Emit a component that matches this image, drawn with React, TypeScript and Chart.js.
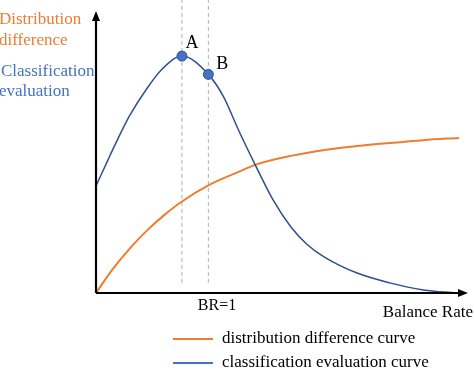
import React, { useEffect, useRef } from "react";
import { Chart, registerables } from "chart.js";

Chart.register(...registerables);

// Balance rate axis (0..100 arbitrary units), value axis (0..100)
const orangeX = [0, 4.5, 9.0, 13.6, 18.4, 22.9, 30.3, 38.3, 42.8, 52.4, 61.4, 70.2, 79.0, 88.0, 97.6];
const orangeY = [0, 8.5, 15.7, 22.1, 27.8, 32.4, 38.4, 43.1, 45.6, 48.8, 50.9, 52.3, 53.4, 54.4, 55.2];

const blueX = [0, 3.2, 5.1, 9.0, 13.6, 17.8, 23.1, 30.2, 34.3, 38.3, 42.8, 47.6, 52.4, 56.9, 61.4, 70.2, 79.0, 88.0, 96.8];
const blueY = [38.1, 47.3, 52.7, 63.0, 72.6, 79.7, 84.3, 77.8, 69.8, 58.0, 45.6, 33.1, 23.5, 17.1, 12.8, 7.1, 3.6, 1.1, 0];

const markLabels = ["A", "B"];
const markX = [23.1, 30.2];
const markY = [84.3, 77.8];
const guideBottom = 3.6;
const guideTop = 104.5;

const yAxisTitle1 = ["Distribution", "difference"];
const yAxisTitle2 = ["Classification", "evaluation"];
const xAxisTitle = "Balance Rate";
const brLabel = "BR=1";
const legendLabels = ["distribution difference curve", "classification evaluation curve"];

const ORANGE = "#ed7d31";
const BLUE_LINE = "#2f4f8f";
const BLUE_TEXT = "#4472c4";
const FAMILY = '"Liberation Serif", serif';

const decorPlugin = {
  id: "decor",
  afterDatasetsDraw(chart: any) {
    const { ctx, chartArea, scales } = chart;
    const { left, right, top, bottom } = chartArea;
    ctx.save();
    ctx.font = `16px ${FAMILY}`;
    ctx.measureText("warm up");
    // axes
    ctx.strokeStyle = "#000";
    ctx.fillStyle = "#000";
    ctx.lineWidth = 2.2;
    ctx.beginPath();
    ctx.moveTo(left, bottom);
    ctx.lineTo(left, top + 6);
    ctx.moveTo(left, bottom);
    ctx.lineTo(right - 6, bottom);
    ctx.stroke();
    // arrow heads
    ctx.beginPath();
    ctx.moveTo(left, top - 1);
    ctx.lineTo(left - 4, top + 9);
    ctx.lineTo(left + 4, top + 9);
    ctx.closePath();
    ctx.fill();
    ctx.beginPath();
    ctx.moveTo(right, bottom);
    ctx.lineTo(right - 10, bottom - 4);
    ctx.lineTo(right - 10, bottom + 4);
    ctx.closePath();
    ctx.fill();

    ctx.textBaseline = "middle";

    // point labels
    ctx.fillStyle = "#000";
    ctx.font = `18px ${FAMILY}`;
    ctx.textAlign = "center";
    const xs = scales.x;
    const ys = scales.y;
    ctx.fillText(markLabels[0], xs.getPixelForValue(markX[0]) + 10, ys.getPixelForValue(markY[0]) - 13);
    ctx.fillText(markLabels[1], xs.getPixelForValue(markX[1]) + 14, ys.getPixelForValue(markY[1]) - 10);

    // BR=1 label
    ctx.font = `16px ${FAMILY}`;
    ctx.fillText(brLabel, 217, 306);
    // x axis title
    ctx.font = `17px ${FAMILY}`;
    ctx.textAlign = "right";
    ctx.fillText(xAxisTitle, 473, 313);

    // legend
    ctx.font = `17px ${FAMILY}`;
    ctx.textAlign = "left";
    const rows = [
      { y: 339, color: ORANGE, text: legendLabels[0] },
      { y: 363, color: BLUE_TEXT, text: legendLabels[1] },
    ];
    rows.forEach((r) => {
      ctx.strokeStyle = r.color;
      ctx.lineWidth = 2;
      ctx.beginPath();
      ctx.moveTo(173, r.y);
      ctx.lineTo(213, r.y);
      ctx.stroke();
      ctx.fillStyle = "#000";
      ctx.fillText(r.text, 222, r.y);
    });

    // side titles
    ctx.font = `17px ${FAMILY}`;
    ctx.textAlign = "left";
    ctx.fillStyle = ORANGE;
    ctx.fillText(yAxisTitle1[0], -1, 20);
    ctx.fillText(yAxisTitle1[1], -1, 41);
    ctx.fillStyle = BLUE_TEXT;
    ctx.fillText(yAxisTitle2[0], 1, 72);
    ctx.fillText(yAxisTitle2[1], -1, 92);
    ctx.restore();
  },
};

export default function App() {
  const ref = useRef<HTMLCanvasElement>(null);
  useEffect(() => {
    if (!ref.current) return;
    const guideSets = markX.map((x) => ({
      type: "line" as const,
      data: [
        { x, y: guideBottom },
        { x, y: guideTop },
      ],
      borderColor: "#b0b0b0",
      borderWidth: 1,
      borderDash: [4, 3],
      pointRadius: 0,
      clip: false as any,
      order: 5,
    }));
    const chart = new Chart(ref.current, {
      type: "line",
      data: {
        datasets: [
          {
            type: "scatter",
            data: markX.map((x, i) => ({ x, y: markY[i] })),
            backgroundColor: "#4472c4",
            borderColor: "#2f5597",
            borderWidth: 1,
            pointRadius: 5,
            order: 0,
          } as any,
          {
            data: orangeX.map((x, i) => ({ x, y: orangeY[i] })),
            borderColor: ORANGE,
            borderWidth: 2,
            pointRadius: 0,
            cubicInterpolationMode: "monotone",
            order: 2,
          },
          {
            data: blueX.map((x, i) => ({ x, y: blueY[i] })),
            borderColor: BLUE_LINE,
            borderWidth: 1.5,
            pointRadius: 0,
            cubicInterpolationMode: "monotone",
            order: 1,
          },
          ...guideSets,
        ],
      },
      options: {
        responsive: false,
        animation: false,
        layout: { padding: { left: 96, right: 2, top: 12, bottom: 79 } },
        scales: {
          x: { type: "linear", min: 0, max: 100, display: false },
          y: { type: "linear", min: 0, max: 100, display: false },
        },
        plugins: { legend: { display: false }, tooltip: { enabled: false } },
      },
      plugins: [decorPlugin],
    });
    return () => chart.destroy();
  }, []);
  return (
    <div style={{ position: "absolute", left: 0, top: 0, width: 474, height: 372, background: "#fff" }}>
      <canvas ref={ref} width={474} height={372} />
    </div>
  );
}
